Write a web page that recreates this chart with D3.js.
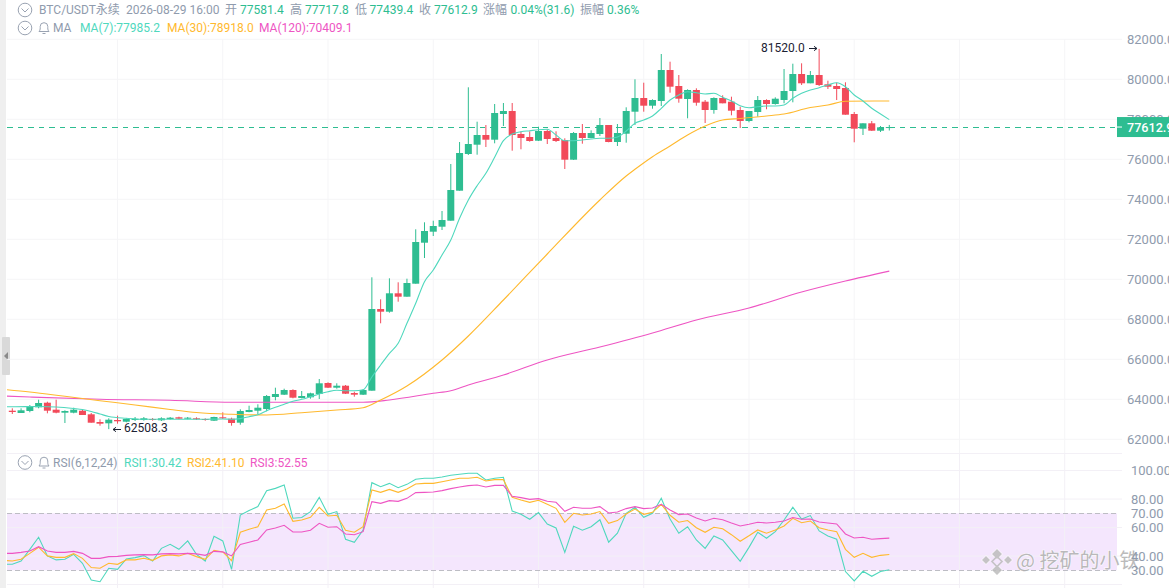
<!DOCTYPE html>
<html>
<head>
<meta charset="utf-8">
<style>
  html, body { margin: 0; padding: 0; background: #fff; overflow: hidden; }
  text { font-family: Roboto, "Noto Sans CJK SC", sans-serif; }
</style>
<script src="https://cdn.jsdelivr.net/npm/d3@7"></script>
</head>
<body>
<div id="plot"></div>
<script>
// candles (last one comes from the header)
const open = [63430,63315,63415,63600,63830,63480,63330,63330,63430,63250,62865,62800,62965,62880,62965,62965,63015,62950,63015,63100,63030,63050,63015,62930,63100,63030,62830,63365,63430,63515,64115,64230,64465,64065,64100,64265,64815,64580,64680,64315,64230,64430,68515,68380,69300,69130,69780,71830,72380,72630,72930,74430,76265,76730,77215,76980,78265,78415,77265,77115,76930,77415,77065,76965,75980,77315,77065,77265,77715,76865,77280,78380,79065,78680,78915,80465,79665,79015,79465,78880,78465,79065,78880,78465,77915,78365,78965,78765,78965,79415,80265,79800,80215,79750,79665,79565,78265,77530,77800,77430,77581.4];
const high = [63550,63550,63715,63980,63880,63980,63450,63580,63515,63315,63000,63050,63180,63050,63115,63115,63065,63100,63115,63130,63115,63100,63050,63130,63350,63080,63500,63680,63750,64215,64580,64530,64500,64415,64330,65015,64850,64800,64715,64380,64500,70100,69000,70050,69850,70030,72500,72850,72930,73415,75765,76865,79600,77880,77715,78765,78815,78815,77400,77400,77630,77500,77400,77050,77365,77765,77450,78065,77715,77765,78600,80000,79830,79000,81265,80880,80215,79500,79550,78965,79100,79200,79130,78630,78415,79165,79000,79100,80515,80780,80800,80415,81520,79930,79830,79850,78365,77800,77915,77665,77717.8];
const low = [63265,63315,63350,63550,63300,63300,62815,63300,63215,62830,62680,62508.3,62780,62850,62915,62930,62930,62915,62980,63000,63000,62965,62930,62915,63015,62680,62730,63350,63265,63400,63950,64215,64050,64050,64030,64015,64565,64530,64265,64130,64215,64430,67800,68330,68880,69130,69780,71065,72165,72465,72930,74430,76215,76230,76615,76800,77665,76430,76500,76880,76915,76765,76865,75515,75965,76780,77050,77165,76850,76665,76830,77715,78380,78530,78665,79330,78830,78050,78680,77815,78280,78800,78200,77565,77850,78130,78500,78730,78800,78850,79715,79800,79665,79515,78965,78230,76850,77215,77415,77365,77439.4];
const close = [63365,63450,63650,63815,63430,63330,63415,63480,63215,62830,62780,62980,62900,63015,63030,63050,62965,63050,63080,63030,63080,63015,62965,63115,63050,62815,63415,63465,63580,64165,64265,64465,64080,64165,64300,64800,64580,64680,64280,64230,64465,68515,68380,69300,69130,69815,71865,72415,72665,72965,74465,76315,76765,77215,76980,78315,78415,77215,77065,76915,77415,77015,76915,75980,77315,77065,77315,77715,76865,77315,78415,79065,78680,78965,80465,79630,79030,79465,78830,78465,79065,78800,78430,77915,78415,78965,78765,79030,79415,80265,79800,80215,79715,79630,79515,78230,77530,77800,77430,77600,77612.9];

// moving averages: bar number and value; bar -1 sits just off the left edge
const ma7Bars = [-1,0,3,5,7,8,9,10,11,13,15,18,22,24,25,26,27,28,29,30,31,32,33,34,35,36,37,38,39,40,41,42,43,44,45,46,47,48,49,50,51,52,53,54,55,56,57,58,59,60,61,62,63,64,65,66,67,68,69,70,71,72,73,74,75,76,77,78,79,80,81,82,83,84,85,86,87,88,89,90,91,92,93,94,95,96,97,98,99,100];
const ma7 = [63630,63625,63640,63615,63540,63490,63390,63265,63140,63050,63000,63000,63005,63015,63000,63035,63130,63230,63430,63600,63750,63900,64000,64130,64265,64380,64450,64430,64430,64475,65115,65715,66300,66800,67800,68800,69880,70465,71215,71965,73050,73965,74680,75300,76100,76930,77265,77380,77430,77480,77500,77215,76930,76930,76965,77015,77050,77050,77115,77415,77800,77965,78165,78550,78965,79215,79380,79330,79265,79300,79100,78915,78680,78580,78630,78665,78665,78715,79050,79300,79465,79580,79715,79830,79630,79215,78915,78550,78265,77985.2];
const ma30Bars = [-1,2,6,10,14,18,21,25,29,33,37,40,42,45,49,52,56,61,67,70,71,73,75,77,79,81,83,86,88,91,93,95,100];
const ma30 = [64490,64365,64150,63930,63715,63490,63340,63250,63215,63330,63465,63580,63965,64665,65965,67165,68965,71265,73965,75165,75500,76130,76665,77215,77665,77965,78040,78165,78265,78590,78715,78900,78918];
const ma120Bars = [-1,2,10,18,25,33,40,43,48,50,52,56,61,67,73,78,84,90,95,100];
const ma120 = [64165,64115,64000,63950,63850,63850,63850,63965,64300,64430,64715,65215,65965,66615,67315,67965,68565,69365,69915,70409.1];

// RSI, one value per bar starting at bar -1
const rsi1 = [34.2,34.2,36.5,44.7,53.2,40.1,37.3,37.7,41.2,34.9,23.2,22.0,31.4,30.7,38.0,38.9,40.3,36.5,45.4,48.2,44.7,50.6,41.2,36.5,53.9,50.6,30.7,68.8,71.9,74.7,85.9,87.5,89.9,66.5,67.0,71.2,81.2,69.3,71.2,51.8,49.7,58.3,91.5,88.7,91.0,88.0,90.3,93.9,94.6,94.6,95.5,96.7,97.4,98.1,98.1,93.4,94.6,95.3,71.6,69.3,65.8,70.5,62.5,59.7,42.6,60.9,58.1,60.6,65.5,49.7,56.0,70.0,74.2,67.2,70.0,80.5,66.0,56.0,60.6,51.3,45.4,54.1,51.3,43.8,36.3,46.1,56.7,52.5,57.1,65.3,74.2,66.0,68.4,57.6,54.1,51.8,29.1,22.5,29.3,25.8,29.1,30.42];
const rsi2 = [37.0,36.5,37.7,41.9,46.2,40.1,39.1,39.1,41.7,38.4,31.9,31.4,34.9,34.2,37.3,37.3,38.4,37.0,40.1,40.8,40.1,41.9,39.6,37.7,44.0,42.9,36.8,56.7,58.8,60.6,72.3,73.5,76.5,64.4,65.3,67.2,74.2,68.1,68.6,58.1,56.7,60.6,86.4,84.7,86.8,84.7,87.1,90.6,91.0,91.0,92.2,93.4,94.6,94.6,95.3,92.7,93.6,93.6,81.2,79.3,77.7,79.1,76.3,73.5,63.7,70.0,68.8,69.5,71.2,63.0,64.9,69.5,73.0,69.3,70.7,76.3,68.6,63.7,64.9,59.9,56.7,60.2,59.2,55.0,50.4,54.3,58.3,56.0,58.3,61.1,66.5,63.4,64.6,59.9,58.3,57.1,44.7,39.1,41.9,39.1,40.5,41.10];
const rsi3 = [41.9,41.9,42.6,43.6,46.6,43.6,42.6,42.6,43.3,41.9,38.4,38.4,39.6,39.8,40.5,40.8,41.0,40.8,41.5,41.7,41.5,41.9,41.5,40.5,43.3,42.9,40.1,48.2,49.7,51.3,58.3,59.7,61.6,56.9,56.9,58.1,63.0,60.2,60.6,55.5,55.0,57.1,78.2,77.0,78.9,78.4,80.5,84.5,84.7,85.0,85.9,87.3,88.5,89.4,89.9,88.5,89.6,89.6,81.9,81.0,79.8,80.3,78.4,77.7,71.4,74.2,73.5,73.5,74.7,70.2,70.9,73.3,74.7,73.3,73.7,76.3,72.3,69.1,69.5,66.7,64.6,66.5,65.5,63.2,61.1,62.3,63.7,63.2,63.7,64.6,67.0,65.8,66.0,63.9,63.2,62.5,55.5,52.7,53.2,51.8,52.2,52.55];

const priceTicks = d3.range(62000, 82001, 2000);
const rsiTicks = [30, 40, 60, 70, 80, 100];
const rsiGrid = [20, 40, 60, 80, 100];
const timeGrid = d3.range(12, 121, 12);

const last = 77612.9, hiMark = 81520.0, loMark = 62508.3;

const upColor = "#2ebd91", downColor = "#f24a5a";
const teal = "#4fd8bd", orange = "#ffb92e", pink = "#ee55c3";
const grey = "#8f9bad";

const W = 1169, H = 588;
const left = 7, right = 1117, gridRight = 1122, axisX = 1127;

const svg = d3.select("#plot").append("svg")
  .attr("width", W).attr("height", H)
  .style("display", "block");

// scales
const x = d3.scaleLinear().domain([0, 100]).range([12.3, 889.3]);
const y = d3.scaleLinear().domain([62000, 80000]).range([439.3, 79.3]);
const yR = d3.scaleLinear().domain([30, 70]).range([570.3, 513.3]);

svg.append("clipPath").attr("id", "plotClip")
  .append("rect").attr("x", left).attr("y", 0).attr("width", right - left).attr("height", H);

// left strip and handle
svg.append("rect").attr("x", 0).attr("y", 0).attr("width", 6).attr("height", H).attr("fill", "#efefef");
svg.append("rect").attr("x", 2).attr("y", 337).attr("width", 8).attr("height", 38).attr("rx", 1).attr("fill", "#d9d9d9");
svg.append("path").attr("d", "M8,352L4,356L8,360Z").attr("fill", "#8a8a8a");

// grid
const grid = svg.append("g").attr("stroke", "#f5f5f7").attr("stroke-width", 1);
grid.selectAll(".h").data(priceTicks).join("line")
  .attr("x1", left).attr("x2", gridRight).attr("y1", d => y(d)).attr("y2", d => y(d));
grid.selectAll(".v").data(timeGrid).join("line")
  .attr("x1", d => x(d)).attr("x2", d => x(d)).attr("y1", 39).attr("y2", 453);

// rsi panel background
svg.append("rect").attr("x", left).attr("width", right - left)
  .attr("y", yR(70)).attr("height", yR(30) - yR(70)).attr("fill", "#f4e6fd");
const gridR = svg.append("g").attr("stroke", "#f3f0f6").attr("stroke-width", 1);
gridR.append("line").attr("x1", left).attr("x2", gridRight).attr("y1", 453.5).attr("y2", 453.5);
gridR.selectAll(".h").data(rsiGrid).join("line")
  .attr("x1", left).attr("x2", gridRight).attr("y1", d => yR(d)).attr("y2", d => yR(d));
gridR.selectAll(".v").data(timeGrid).join("line")
  .attr("x1", d => x(d)).attr("x2", d => x(d)).attr("y1", 453).attr("y2", H);
svg.selectAll(".lvl").data([70, 30]).join("line")
  .attr("x1", left).attr("x2", right).attr("y1", d => yR(d)).attr("y2", d => yR(d))
  .attr("stroke", "#bdbdc4").attr("stroke-dasharray", "5,3")
  .attr("shape-rendering", "crispEdges");

// last price line
svg.append("line").attr("x1", left).attr("x2", right).attr("y1", y(last)).attr("y2", y(last))
  .attr("stroke", upColor).attr("stroke-dasharray", "5.5,5")
  .attr("shape-rendering", "crispEdges");

// candles
const candles = svg.append("g");
const idx = d3.range(open.length);
const col = i => close[i] >= open[i] ? upColor : downColor;
candles.selectAll(".wick").data(idx).join("line")
  .attr("x1", i => x(i)).attr("x2", i => x(i))
  .attr("y1", i => y(high[i])).attr("y2", i => y(low[i]))
  .attr("stroke", col).attr("stroke-width", 1);
candles.selectAll(".body").data(idx).join("rect")
  .attr("x", i => x(i) - 3.5).attr("width", 7)
  .attr("y", i => y(Math.max(open[i], close[i])))
  .attr("height", i => Math.max(1, Math.abs(y(open[i]) - y(close[i]))))
  .attr("fill", col);

// MA lines
const plotLines = svg.append("g").attr("clip-path", "url(#plotClip)").attr("fill", "none").attr("stroke-width", 1.1);
function maLine(bars, vals, c) {
  plotLines.append("path")
    .attr("d", d3.line().curve(d3.curveMonotoneX).x((d, i) => x(bars[i])).y(d => y(d))(vals))
    .attr("stroke", c);
}
maLine(ma120Bars, ma120, pink);
maLine(ma30Bars, ma30, orange);
maLine(ma7Bars, ma7, teal);

// RSI lines
function rsiLine(vals, c) {
  plotLines.append("path")
    .attr("d", d3.line().x((d, i) => x(i - 1)).y(d => yR(d))(vals))
    .attr("stroke", c);
}
rsiLine(rsi1, teal);
rsiLine(rsi2, orange);
rsiLine(rsi3, pink);

// watermark, sits under the axis labels so they stay readable
const wm = svg.append("g").attr("opacity", 0.85);
const logo = "M997,549l5,5l-5,5l-5,-5ZM986,556l4,4l-4,4l-4,-4ZM1008,556l4,4l-4,4l-4,-4ZM997,565l5,5l-5,5l-5,-5Z";
wm.append("path").attr("d", logo).attr("fill", "#bdbdbd").attr("stroke", "#fff").attr("stroke-width", 1.2).attr("paint-order", "stroke");
wm.append("path").attr("d", "M997,556.5l5,5l-5,5l-5,-5Z").attr("fill", "none").attr("stroke", "#bdbdbd").attr("stroke-width", 1.6);
wm.append("text").attr("x", 1016).attr("y", 568).attr("font-size", 20)
  .attr("fill", "#b0b0b0").attr("stroke", "#fff").attr("stroke-width", 1.2).attr("paint-order", "stroke")
  .style("font-family", "'Noto Sans CJK SC', sans-serif").text("@ 挖矿的小铁");

// right axes
const axisP = d3.axisRight(y).tickValues(priceTicks).tickSize(0).tickPadding(0).tickFormat(d => d.toFixed(1));
const axisR = d3.axisRight(yR).tickValues(rsiTicks).tickSize(0).tickPadding(0).tickFormat(d => d.toFixed(2));
[[axisP, axisX], [axisR, 1131]].forEach(([a, ax]) => {
  const g = svg.append("g").attr("transform", `translate(${ax},0)`).call(a);
  g.select(".domain").remove();
  g.selectAll("text").attr("fill", grey).style("font-size", "13px")
    .style("font-family", "Roboto, sans-serif");
});

// last price tag
svg.append("rect").attr("x", right).attr("y", y(last) - 10).attr("width", W - right).attr("height", 20).attr("fill", upColor);
svg.append("line").attr("x1", right).attr("x2", gridRight).attr("y1", y(last)).attr("y2", y(last)).attr("stroke", "#fff");
svg.append("text").attr("x", axisX).attr("y", y(last) + 4.6)
  .attr("fill", "#fff").attr("font-weight", 500).attr("font-size", 12.6).text(last.toFixed(1));

// high / low marks
const ink = "#1c2233";
function arrow(x0, x1, yy) {
  const d = x1 > x0 ? 1 : -1;
  svg.append("path").attr("fill", "none").attr("stroke", ink).attr("stroke-width", 1)
    .attr("d", `M${x0},${yy}L${x1},${yy}M${x1 - 3 * d},${yy - 2.2}L${x1},${yy}L${x1 - 3 * d},${yy + 2.2}`);
}
svg.append("text").attr("x", 761).attr("y", 52).attr("fill", ink).attr("font-size", 12).text(hiMark.toFixed(1));
arrow(809, 817, 48.5);
svg.append("text").attr("x", 124).attr("y", 432).attr("fill", ink).attr("font-size", 12).text(loMark.toFixed(1));
arrow(121, 113, 429.5);

// legend rows
function chevron(cx, cy) {
  svg.append("circle").attr("cx", cx).attr("cy", cy).attr("r", 6.8)
    .attr("fill", "none").attr("stroke", "#9aa3b2").attr("stroke-width", 1);
  svg.append("path").attr("fill", "none").attr("stroke", "#9aa3b2").attr("stroke-width", 1)
    .attr("d", `M${cx - 3.5},${cy - 1.5}L${cx},${cy + 2}L${cx + 3.5},${cy - 1.5}`);
}
function bell(cx, cy) {
  svg.append("path").attr("fill", "none").attr("stroke", "#9aa3b2").attr("stroke-width", 1)
    .attr("d", `M${cx - 5},${cy + 3.5}H${cx + 5}C${cx + 3.5},${cy + 2} ${cx + 3.8},${cy} ${cx + 3.8},${cy - 1.5}A3.8,3.8 0 0 0 ${cx - 3.8},${cy - 1.5}C${cx - 3.8},${cy} ${cx - 3.5},${cy + 2} ${cx - 5},${cy + 3.5}M${cx - 1.5},${cy + 5.5}H${cx + 1.5}`);
}
function label(str, px, py, c) {
  svg.append("text").attr("x", px).attr("y", py).attr("fill", c).attr("font-size", 12).text(str);
}

chevron(25, 10);
chevron(25, 28);
bell(44, 28);
chevron(25, 462.5);
bell(44, 462.5);

const headText = ["BTC/USDT永续", "2026-08-29 16:00", "开", "77581.4", "高", "77717.8", "低", "77439.4", "收", "77612.9", "涨幅", "0.04%(31.6)", "振幅", "0.36%"];
const headX = [39, 126, 225, 240, 290, 305, 355, 369.5, 419, 434, 483, 510.5, 580, 607];
headText.forEach((t, i) => {
  const green = i === 3 || i === 5 || i === 7 || i === 9 || i === 11 || i === 13;
  label(t, headX[i], 14, green ? upColor : grey);
});

label("MA", 53, 32, grey);
label("MA(7):77985.2", 80, 32, teal);
label("MA(30):78918.0", 167, 32, orange);
label("MA(120):70409.1", 259, 32, pink);

label("RSI(6,12,24)", 53, 466.5, grey);
label("RSI1:30.42", 124, 466.5, teal);
label("RSI2:41.10", 187, 466.5, orange);
label("RSI3:52.55", 250, 466.5, pink);
</script>
</body>
</html>
